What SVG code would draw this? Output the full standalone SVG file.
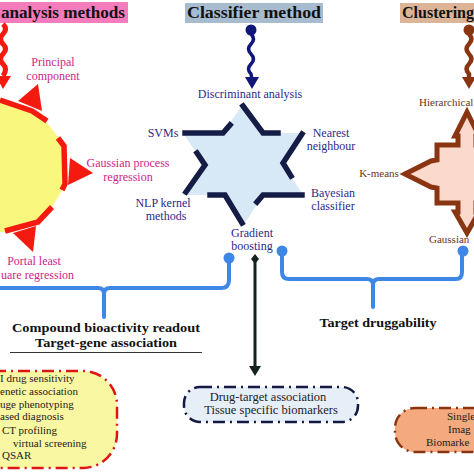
<svg xmlns="http://www.w3.org/2000/svg" width="474" height="474" viewBox="0 0 474 474">
<defs>
<style>
.hd{font-family:"Liberation Serif","DejaVu Serif",serif;font-weight:bold;font-size:16px;fill:#111}
.lb{font-family:"Liberation Serif","DejaVu Serif",serif;font-size:12px}
.nv{fill:#2b2b8c}
.pk{fill:#cc1f87}
.br{fill:#6b3318;font-size:11px}
.bk{font-family:"Liberation Serif","DejaVu Serif",serif;font-weight:bold;font-size:13.5px;fill:#111}
.bx{font-family:"Liberation Serif","DejaVu Serif",serif;font-size:11px;fill:#222}
.bb{font-size:12.5px}
.blue{fill:none;stroke:#3f87e6;stroke-width:4;stroke-linecap:round;stroke-linejoin:round}
.star{fill:none;stroke:#151c45;stroke-width:5.5;stroke-linecap:square;stroke-linejoin:miter}
.redb{fill:none;stroke:#f51a10;stroke-width:5.5;stroke-linejoin:miter}
</style>
</defs>
<rect width="474" height="474" fill="#ffffff"/>

<g id="header-analysis">
<rect x="0" y="2" width="128" height="21" fill="#f47cbc"/>
<text class="hd" x="1" y="18" textLength="124" lengthAdjust="spacingAndGlyphs">analysis methods</text>
</g>
<g id="header-classifier">
<rect x="185" y="3" width="138" height="20" fill="#a7bccf"/>
<text class="hd" x="187" y="18" textLength="134" lengthAdjust="spacingAndGlyphs">Classifier method</text>
</g>
<g id="header-clustering">
<rect x="400" y="3" width="74" height="20" fill="#dcb497"/>
<text class="hd" x="402" y="18">Clustering</text>
</g>

<g id="squiggle-left">
<path d="M3,24 q5,5 0,10 q-5,5 0,10 q5,5 0,10 q-5,5 0,10 q5,5 0,12" fill="none" stroke="#f51a10" stroke-width="5"/>
<polygon points="-4,76 11,76 3,89" fill="#f51a10"/>
</g>
<g id="squiggle-middle">
<circle cx="251" cy="30" r="5.5" fill="#10167a"/>
<path d="M251,34 q5,5 0,10 q-5,5 0,10 q5,5 0,10 q-5,5 0,10 l1,5" fill="none" stroke="#10167a" stroke-width="3.5"/>
<polygon points="245,77 259,77 252,89" fill="#10167a"/>
</g>
<g id="squiggle-right">
<circle cx="469" cy="30" r="5.5" fill="#8a3512"/>
<path d="M469,34 q5,5 0,10 q-5,5 0,10 q5,5 0,10 q-5,5 0,10 l0,5" fill="none" stroke="#8a3512" stroke-width="4.5"/>
<polygon points="462,77 476,77 469,89" fill="#8a3512"/>
</g>

<g id="analysis-shape">
<polygon points="0,99 40,114 62,142 65,185 52,207 38,222 5,232 0,232" fill="#f9f77e"/>
<polyline class="redb" points="0,100 32,111 47,121"/>
<polyline class="redb" points="58,138 64,146 65,184 62,190"/>
<polyline class="redb" points="52,207 38,222 5,231"/>
<polygon points="38,84 18,101 42,111" fill="#f51a10"/>
<polygon points="93,173 70,158 68,185" fill="#f51a10"/>
<polygon points="33,252 13,233 36,226" fill="#f51a10"/>
<text class="lb pk" x="53" y="66" text-anchor="middle">Principal</text>
<text class="lb pk" x="53" y="80" text-anchor="middle">component</text>
<text class="lb pk" x="128" y="167" text-anchor="middle">Gaussian process</text>
<text class="lb pk" x="128" y="181" text-anchor="middle">regression</text>
<text class="lb pk" x="34" y="265" text-anchor="middle">Portal least</text>
<text class="lb pk" x="1" y="279">uare regression</text>
</g>

<g id="classifier-star">
<polygon points="243,104 263,133 303,133 283,164 303,195 263,195 243,226 224,195 183,195 204,164 183,133 223,133" fill="#d7e9f6"/>
<polyline class="star" points="243,106 263,133 278,133"/>
<polyline class="star" points="185,133 223,133 230,125"/>
<polyline class="star" points="302,134 283,163 291,176"/>
<polyline class="star" points="197,153 205,165 186,192"/>
<polyline class="star" points="210,195 225,195 242,223"/>
<polyline class="star" points="257,202 263,195 302,195"/>
<text class="lb nv" x="250" y="98" text-anchor="middle">Discriminant analysis</text>
<text class="lb nv" x="163" y="137" text-anchor="middle">SVMs</text>
<text class="lb nv" x="331" y="137" text-anchor="middle">Nearest</text>
<text class="lb nv" x="331" y="150" text-anchor="middle">neighbour</text>
<text class="lb nv" x="333" y="197" text-anchor="middle">Bayesian</text>
<text class="lb nv" x="333" y="210" text-anchor="middle">classifier</text>
<text class="lb nv" x="163" y="207" text-anchor="middle">NLP kernel</text>
<text class="lb nv" x="166" y="220" text-anchor="middle">methods</text>
<text class="lb nv" x="252" y="237" text-anchor="middle">Gradient</text>
<text class="lb nv" x="252" y="250" text-anchor="middle">boosting</text>
</g>

<g id="clustering-shape">
<polygon points="467,112 455,136 458,136 458,145 437,145 437,160 431,161 405,174 431,187 437,188 437,203 458,203 458,212 455,212 467,233 479,212 476,212 476,203 497,203 497,145 476,145 476,136 479,136" fill="#fbdacd" stroke="#8a3512" stroke-width="5" stroke-linejoin="miter"/>
<text class="lb br" x="419" y="106">Hierarchical</text>
<text class="lb br" x="379" y="177" text-anchor="middle">K-means</text>
<text class="lb br" x="429" y="243">Gaussian</text>
</g>

<g id="connectors">
<circle cx="229" cy="258" r="5.5" fill="#3f87e6"/>
<path class="blue" d="M229,260 V280 Q229,288 221,288 H110 Q104,288 104,294 V317 M104,294 Q104,288 98,288 H-5"/>
<circle cx="282" cy="251" r="5.5" fill="#3f87e6"/>
<path class="blue" d="M282,253 V272 Q282,279 289,279 H367 Q373,279 373,285 V307 M373,285 Q373,279 379,279 H456 Q462,279 462,272 V253"/>
<circle cx="463" cy="251" r="5.5" fill="#3f87e6"/>
<line x1="255" y1="262" x2="255" y2="367" stroke="#15241a" stroke-width="3"/>
<polygon points="255,254 259,259 255,264 251,259" fill="#15241a"/>
<polygon points="249,366 261,366 255,376" fill="#15241a"/>
</g>

<g id="readout-compound">
<text class="bk" x="106" y="332" text-anchor="middle" textLength="188" lengthAdjust="spacingAndGlyphs">Compound bioactivity readout</text>
<text class="bk" x="106" y="347" text-anchor="middle" textLength="142" lengthAdjust="spacingAndGlyphs">Target-gene association</text>
<line x1="10" y1="352.5" x2="202" y2="352.5" stroke="#333" stroke-width="1"/>
</g>
<g id="readout-target">
<text class="bk" x="378" y="327" text-anchor="middle" textLength="117" lengthAdjust="spacingAndGlyphs">Target druggability</text>
</g>

<g id="box-yellow">
<rect x="-40" y="371" width="157" height="97" rx="34" fill="#faf7a2" stroke="#dd1515" stroke-width="2.5" stroke-dasharray="12,5,2,5"/>
<text class="bx" x="0" y="382">I drug sensitivity</text>
<text class="bx" x="0" y="395">enetic association</text>
<text class="bx" x="0" y="408">uge phenotyping</text>
<text class="bx" x="0" y="420">ased diagnosis</text>
<text class="bx" x="2" y="434">CT profiling</text>
<text class="bx" x="13" y="447">virtual screening</text>
<text class="bx" x="2" y="459">QSAR</text>
</g>

<g id="box-blue">
<rect x="184" y="387" width="174" height="35" rx="16" fill="#e6eef8" stroke="#121a44" stroke-width="2.5" stroke-dasharray="12,5,2,5"/>
<text class="bx bb" x="268" y="401" text-anchor="middle">Drug-target association</text>
<text class="bx bb" x="271" y="414" text-anchor="middle">Tissue specific biomarkers</text>
</g>

<g id="box-orange">
<rect x="395" y="408" width="120" height="44" rx="20" fill="#f5a97f" stroke="#8a3512" stroke-width="2.5" stroke-dasharray="12,5,2,5"/>
<text class="bx" x="447" y="420">Single</text>
<text class="bx" x="448" y="433">Imag</text>
<text class="bx" x="426" y="446">Biomarke</text>
</g>
</svg>
